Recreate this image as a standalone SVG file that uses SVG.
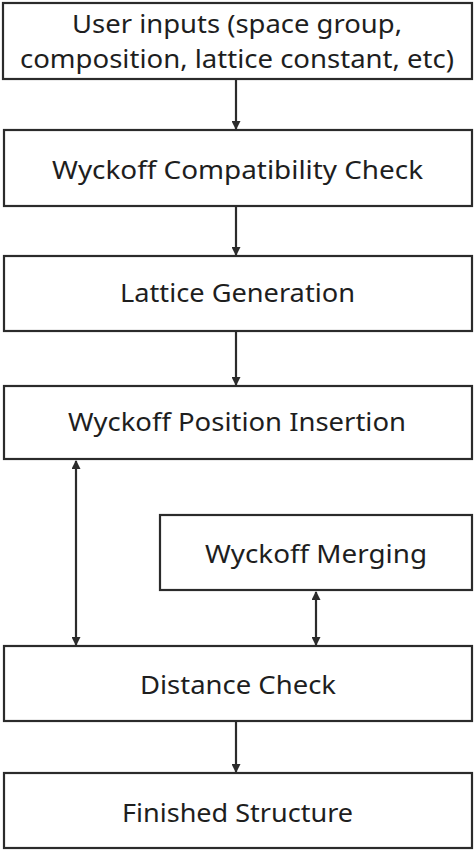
<svg xmlns="http://www.w3.org/2000/svg" width="474" height="851" viewBox="0 0 474 851">
<style>
.box{fill:#fff;stroke:#2b2b2b;stroke-width:2.2}
.lbl{font-family:"Noto Sans","Open Sans",sans-serif;font-size:26px;fill:#1e1e1e;text-anchor:middle}
.con{stroke:#2b2b2b;stroke-width:2.2;fill:none}
</style>
<defs>
<marker id="ah" markerWidth="9" markerHeight="9" refX="8" refY="4.5" orient="auto-start-reverse" markerUnits="userSpaceOnUse">
<path d="M0,0 L9,4.5 L0,9 Z" fill="#2b2b2b"/>
</marker>
</defs>
<rect width="474" height="851" fill="#fff"/>
<g id="n1"><rect class="box" x="3" y="3" width="469" height="76"/>
<text class="lbl" x="237" y="33" textLength="330" lengthAdjust="spacingAndGlyphs">User inputs (space group,</text>
<text class="lbl" x="237" y="68" textLength="434" lengthAdjust="spacingAndGlyphs">composition, lattice constant, etc)</text></g>
<g id="n2"><rect class="box" x="4" y="130" width="468" height="76"/>
<text class="lbl" x="237.5" y="179" textLength="371" lengthAdjust="spacingAndGlyphs">Wyckoff Compatibility Check</text></g>
<g id="n3"><rect class="box" x="4" y="256" width="468" height="75"/>
<text class="lbl" x="237.5" y="302" textLength="235" lengthAdjust="spacingAndGlyphs">Lattice Generation</text></g>
<g id="n4"><rect class="box" x="4" y="386" width="468" height="73"/>
<text class="lbl" x="237" y="431" textLength="338" lengthAdjust="spacingAndGlyphs">Wyckoff Position Insertion</text></g>
<g id="n5"><rect class="box" x="160" y="515" width="312" height="75"/>
<text class="lbl" x="316" y="563" textLength="222" lengthAdjust="spacingAndGlyphs">Wyckoff Merging</text></g>
<g id="n6"><rect class="box" x="4" y="646" width="468" height="75"/>
<text class="lbl" x="238" y="694" textLength="196" lengthAdjust="spacingAndGlyphs">Distance Check</text></g>
<g id="n7"><rect class="box" x="4" y="773" width="468" height="75"/>
<text class="lbl" x="237.5" y="822" textLength="231" lengthAdjust="spacingAndGlyphs">Finished Structure</text></g>
<g id="connectors">
<line class="con" x1="236" y1="80" x2="236" y2="129" marker-end="url(#ah)"/>
<line class="con" x1="236" y1="207" x2="236" y2="255" marker-end="url(#ah)"/>
<line class="con" x1="236" y1="332" x2="236" y2="385" marker-end="url(#ah)"/>
<line class="con" x1="76" y1="461" x2="76" y2="645" marker-start="url(#ah)" marker-end="url(#ah)"/>
<line class="con" x1="316" y1="592" x2="316" y2="645" marker-start="url(#ah)" marker-end="url(#ah)"/>
<line class="con" x1="236" y1="722" x2="236" y2="772" marker-end="url(#ah)"/>
</g>
</svg>
